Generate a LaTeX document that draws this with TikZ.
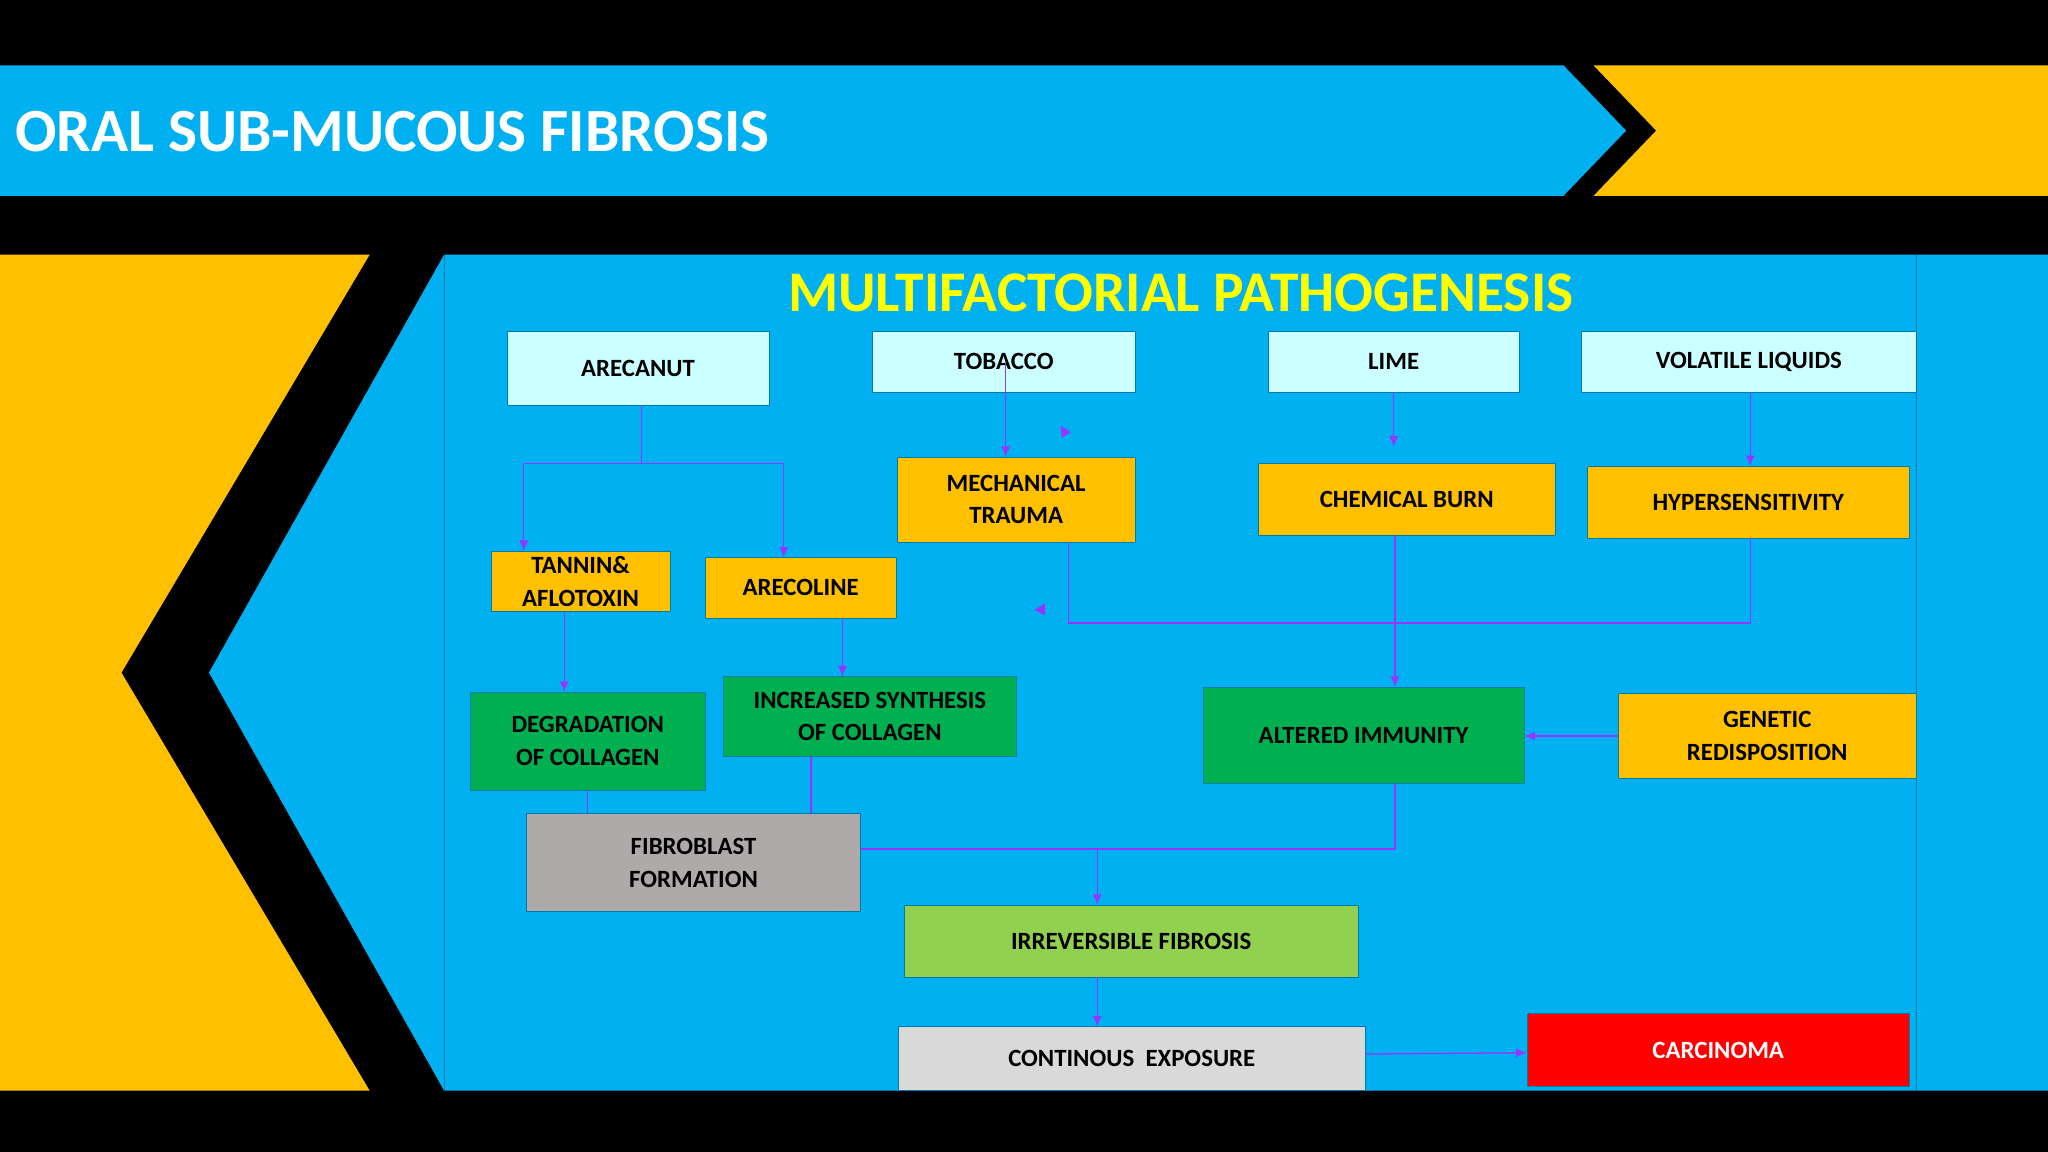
\documentclass[tikz,border=0pt]{standalone}
\usepackage{fontspec}
\setmainfont{Carlito}
\usetikzlibrary{arrows.meta}
\definecolor{skyb}{HTML}{00B0F0}
\definecolor{gold}{HTML}{FFC000}
\definecolor{lcyan}{HTML}{CCFFFF}
\definecolor{grn}{HTML}{00B050}
\definecolor{lgrn}{HTML}{92D050}
\definecolor{gry}{HTML}{AEAAAA}
\definecolor{lgry}{HTML}{D9D9D9}
\definecolor{purp}{HTML}{9933FF}
\definecolor{ylw}{HTML}{FFFF00}
\tikzset{
 bx/.style={draw=skyb!70!black, line width=0.4pt, inner sep=0pt, align=center, font=\fontsize{19}{25}\selectfont\bfseries, text=black},
 con/.style={draw=purp, line width=1pt},
 arr/.style={con, -{Latex[length=8pt,width=7pt]}}
}
\newcommand{\bxat}[7]{\node[bx,fill=#2,minimum width=#5-#3,minimum height=#6-#4] (#1) at ({(#3+#5)/2},{(#4+#6)/2}) {#7};}
\begin{document}
\begin{tikzpicture}[x=1pt,y=-1pt]
\useasboundingbox (0,0) rectangle (1568,882);
\fill[black] (0,0) rectangle (1568,882);
\fill[skyb] (0,50) -- (1197,50) -- (1245,100) -- (1197,150) -- (0,150) -- cycle;
\fill[gold] (1220,50) -- (1568,50) -- (1568,150) -- (1220,150) -- (1268,100) -- cycle;
\fill[gold] (0,195) -- (283,195) -- (93,515) -- (283,835) -- (0,835) -- cycle;
\fill[skyb] (340,195) -- (1568,195) -- (1568,835) -- (340,835) -- (160,515) -- cycle;
\draw[skyb!70!black, line width=0.5pt] (340,195) -- (340,835) (1467,195) -- (1467,835);
\node[anchor=west, text=white, font=\fontsize{47}{50}\selectfont\bfseries] (title) at (8,101) {ORAL SUB-MUCOUS FIBROSIS};
\node[text=ylw, font=\fontsize{44}{48}\selectfont\bfseries] (sub) at (904,224) {MULTIFACTORIAL PATHOGENESIS};
\bxat{are}{lcyan}{388}{254}{589}{310}{ARECANUT}
\bxat{tob}{lcyan}{668}{254}{869}{300}{TOBACCO}
\bxat{lime}{lcyan}{971}{254}{1163}{300}{LIME}
\bxat{vol}{lcyan}{1211}{254}{1467}{300}{VOLATILE LIQUIDS}
\bxat{mech}{gold}{687}{350}{869}{415}{MECHANICAL\\ TRAUMA}
\bxat{chem}{gold}{963}{355}{1191}{410}{CHEMICAL BURN}
\bxat{hyp}{gold}{1215}{357}{1462}{412}{HYPERSENSITIVITY}
\bxat{tan}{gold}{376}{422}{513}{468}{TANNIN\&\\ AFLOTOXIN}
\bxat{arc}{gold}{540}{427}{686}{473}{ARECOLINE}
\bxat{deg}{grn}{360}{530}{540}{605}{DEGRADATION\\ OF COLLAGEN}
\bxat{inc}{grn}{554}{518}{778}{579}{INCREASED SYNTHESIS\\ OF COLLAGEN}
\bxat{alt}{grn}{921}{526}{1167}{600}{ALTERED IMMUNITY}
\bxat{gen}{gold}{1239}{531}{1467}{596}{GENETIC\\ REDISPOSITION}
\bxat{fib}{gry}{403}{623}{659}{698}{FIBROBLAST\\ FORMATION}
\bxat{irr}{lgrn}{692}{693}{1040}{748}{IRREVERSIBLE FIBROSIS}
\bxat{cont}{lgry}{688}{786}{1045}{835}{CONTINOUS\ \ EXPOSURE}
\node[bx,fill=red,text=white,minimum width=293,minimum height=56] (car) at (1315.5,804) {CARCINOMA};
% connectors
\coordinate (aj) at (491,355);
\draw[con] (are.south -| aj) -- (aj);
\draw[con] (401,355) -- (600,355);
\draw[arr] (401,355) -- (tan.north -| 401,0);
\draw[arr] (600,355) -- (arc.north -| 600,0);
\draw[arr] (770,278) -- (mech.north -| 770,0);
\draw[arr] (lime.south -| 1067,0) -- (1067,342);
\draw[arr] (vol.south -| 1340,0) -- (hyp.north -| 1340,0);
\draw[arr] (tan.south -| 432,0) -- (deg.north -| 432,0);
\draw[arr] (arc.south -| 645,0) -- (inc.north -| 645,0);
\draw[con] (mech.south -| 818,0) -- (818,477) -- (1340,477) -- (hyp.south -| 1340,0);
\draw[arr] (chem.south -| 1068,0) -- (alt.north -| 1068,0);
\draw[arr] (gen.west) -- (alt.east |- gen.west);
\draw[con] (deg.south -| 450,0) -- (fib.north -| 450,0);
\draw[con] (inc.south -| 621,0) -- (fib.north -| 621,0);
\draw[con] (alt.south -| 1068,0) -- (1068,650) -- (fib.east |- 0,650);
\draw[arr] (840,650) -- (irr.north -| 840,0);
\draw[arr] (irr.south -| 840,0) -- (cont.north -| 840,0);
\draw[arr] (cont.east |- 0,807) -- (car.west |- 0,806);
\fill[purp] (812,326) -- (820,331) -- (813,335) -- cycle;
\fill[purp] (792,467) -- (800,462) -- (800,471) -- cycle;
\end{tikzpicture}
\end{document}
